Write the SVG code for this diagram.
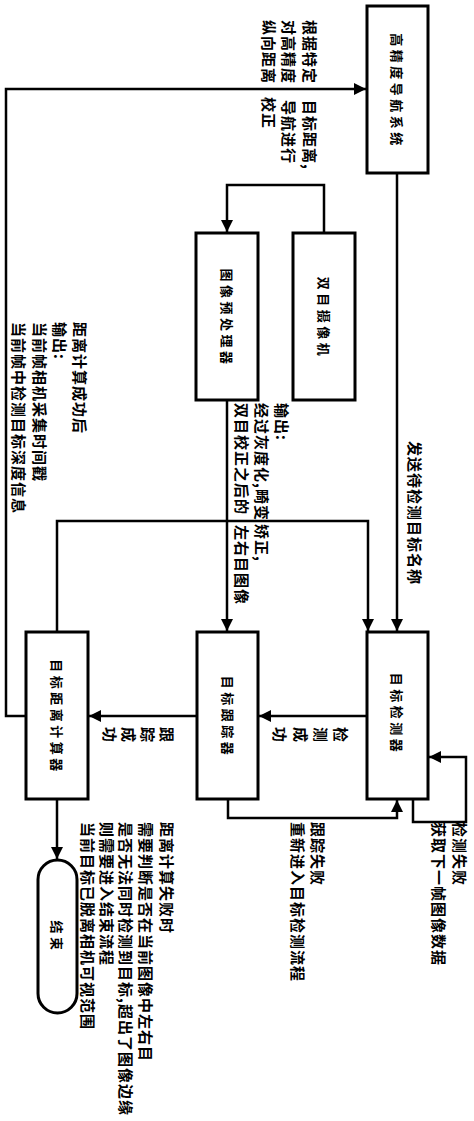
<svg xmlns="http://www.w3.org/2000/svg" width="474" height="1121" viewBox="0 0 474 1121">
<style>
.box{fill:#fff;stroke:#000;stroke-width:3}
.ln{fill:none;stroke:#000;stroke-width:2.5}
.bt{font-family:"Noto Sans CJK SC","Noto Sans",sans-serif;font-size:13px;font-weight:bold;letter-spacing:3.5px;text-anchor:middle;dominant-baseline:central;fill:#000}
.lb{font-family:"Noto Sans CJK SC","Noto Sans",sans-serif;font-size:15px;font-weight:bold;letter-spacing:1px;dominant-baseline:central;fill:#000}
</style>
<defs>
<marker id="ah" markerWidth="13" markerHeight="13" refX="12" refY="6.5" orient="auto" markerUnits="userSpaceOnUse"><path d="M0,0.5 L12,6.5 L0,12.5 Z" fill="#000"/></marker>
</defs>
<rect width="474" height="1121" fill="#fff"/>
<g id="connectors">
<path class="ln" d="M397,173 V631" marker-end="url(#ah)"/>
<path class="ln" d="M324,233 V185 H227 V232" marker-end="url(#ah)"/>
<path class="ln" d="M227,400 V631" marker-end="url(#ah)"/>
<path class="ln" d="M57,631 V521 H368 V631" marker-start="url(#ah)" marker-end="url(#ah)"/>
<path class="ln" d="M367,716 H259" marker-end="url(#ah)"/>
<path class="ln" d="M197,716 H89" marker-end="url(#ah)"/>
<path class="ln" d="M26,716 H6 V89 H366" marker-end="url(#ah)"/>
<path class="ln" d="M57,799 V859" marker-end="url(#ah)"/>
<path class="ln" d="M228,799 V818 H397 V800" marker-end="url(#ah)"/>
<path class="ln" d="M413,799 V822 H466 V757 H429" marker-end="url(#ah)"/>
</g>
<g id="nav"><rect class="box" x="367" y="6" width="61" height="167"/><text class="bt" transform="translate(397,91) rotate(90)">高精度导航系统</text></g>
<g id="camera"><rect class="box" x="293" y="233" width="62" height="167"/><text class="bt" transform="translate(324,318) rotate(90)">双目摄像机</text></g>
<g id="preproc"><rect class="box" x="196" y="233" width="62" height="167"/><text class="bt" transform="translate(227,318) rotate(90)">图像预处理器</text></g>
<g id="detector"><rect class="box" x="367" y="632" width="61" height="167"/><text class="bt" transform="translate(397,714) rotate(90)">目标检测器</text></g>
<g id="tracker"><rect class="box" x="197" y="632" width="61" height="167"/><text class="bt" transform="translate(228,717) rotate(90)">目标跟踪器</text></g>
<g id="calc"><rect class="box" x="26" y="632" width="62" height="167"/><text class="bt" transform="translate(57,717) rotate(90)">目标距离计算器</text></g>
<g id="end"><rect class="box" x="38" y="860" width="39" height="153" rx="19.5"/><text class="bt" transform="translate(57,937) rotate(90)">结束</text></g>
<g id="labels">
<text class="lb" transform="translate(310,20) rotate(90)">根据特定</text>
<text class="lb" transform="translate(310,100) rotate(90)">目标距离,</text>
<text class="lb" transform="translate(289,20) rotate(90)">对高精度</text>
<text class="lb" transform="translate(289,100) rotate(90)">导航进行</text>
<text class="lb" transform="translate(269,20) rotate(90)">纵向距离</text>
<text class="lb" transform="translate(269,97) rotate(90)">校正</text>
<text class="lb" transform="translate(415,441) rotate(90)">发送待检测目标名称</text>
<text class="lb" transform="translate(282,403) rotate(90)">输出:</text>
<text class="lb" transform="translate(262,403) rotate(90)">经过灰度化,畸变</text>
<text class="lb" transform="translate(262,524) rotate(90)">矫正,</text>
<text class="lb" transform="translate(242,403) rotate(90)">双目校正之后的</text>
<text class="lb" transform="translate(242,525) rotate(90)">左右目图像</text>
<text class="lb" transform="translate(80,322) rotate(90)">距离计算成功后</text>
<text class="lb" transform="translate(60,322) rotate(90)">输出:</text>
<text class="lb" transform="translate(40,322) rotate(90)">当前帧相机采集时间戳</text>
<text class="lb" transform="translate(19,322) rotate(90)">当前帧中检测目标深度信息</text>
<text class="lb" transform="translate(341,727) rotate(90)">检</text>
<text class="lb" transform="translate(321,727) rotate(90)">测</text>
<text class="lb" transform="translate(301,727) rotate(90)">成</text>
<text class="lb" transform="translate(280,727) rotate(90)">功</text>
<text class="lb" transform="translate(167,727) rotate(90)">跟</text>
<text class="lb" transform="translate(148,727) rotate(90)">踪</text>
<text class="lb" transform="translate(129,727) rotate(90)">成</text>
<text class="lb" transform="translate(110,727) rotate(90)">功</text>
<text class="lb" transform="translate(318,822) rotate(90)">跟踪失败</text>
<text class="lb" transform="translate(298,822) rotate(90)">重新进入目标检测流程</text>
<text class="lb" transform="translate(460,822) rotate(90)">检测失败</text>
<text class="lb" transform="translate(439,822) rotate(90)">获取下一帧图像数据</text>
<text class="lb" transform="translate(167,822) rotate(90)">距离计算失败时</text>
<text class="lb" transform="translate(146,822) rotate(90)">需要判断是否在当前图像中左右目</text>
<text class="lb" transform="translate(126,822) rotate(90)">是否无法同时检测到目标,超出了图像边缘</text>
<text class="lb" transform="translate(107,822) rotate(90)">则需要进入结束流程</text>
<text class="lb" transform="translate(88,822) rotate(90)">当前目标已脱离相机可视范围</text>
</g>
</svg>
